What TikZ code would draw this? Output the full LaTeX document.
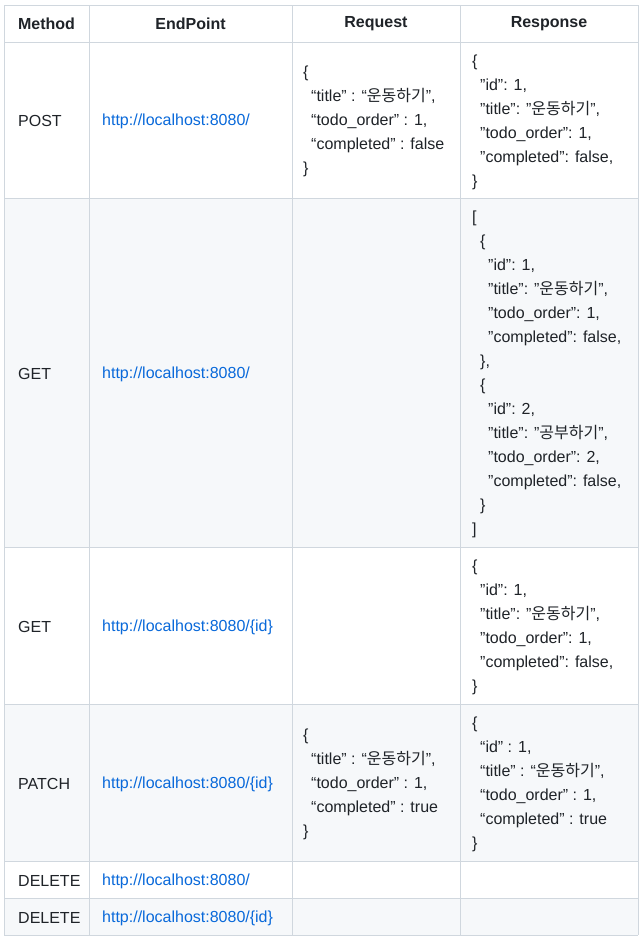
\documentclass[tikz,border=0pt]{standalone}
\usepackage{fontspec}
\setmainfont{Liberation Sans}
\newfontfamily\krfont{Noto Sans CJK KR}
\newcommand{\ko}[1]{{\krfont #1}}
\newcommand{\dq}{\symbol{34}}
\definecolor{grid}{HTML}{D0D7DE}
\definecolor{rowshade}{HTML}{F6F8FA}
\definecolor{link}{HTML}{0969DA}
\definecolor{ink}{HTML}{1F2328}
\tikzset{
 cell/.style={anchor=west,inner sep=0pt,align=left,text=ink,font=\fontsize{16}{24}\selectfont},
 hdr/.style={inner sep=0pt,text=ink,font=\fontsize{16}{24}\selectfont\bfseries},
 lnk/.style={cell,text=link},
 gridline/.style={draw=grid,line width=1pt}
}
\newcommand{\ind}[1]{\hspace*{#1pt}}
\begin{document}
\begin{tikzpicture}[x=1pt,y=-1pt]
\fill[white] (0,0) rectangle (644,938);
\useasboundingbox (0,0) rectangle (644,938);
\fill[rowshade] (4,198) rectangle (638,547);
\fill[rowshade] (4,704) rectangle (638,861);
\fill[rowshade] (4,898) rectangle (638,935);
\foreach \y in {5,42,198,547,704,861,898,935} \draw[gridline] (4,\y) -- (638,\y);
\foreach \x in {4,89,292,460,638} \draw[gridline] (\x,5) -- (\x,935);
% header
\node[hdr] (h1) at (46.5,24) {Method};
\node[hdr] (h2) at (190.5,24) {EndPoint};
\node[hdr] (h3) at (376,24) {Request};
\node[hdr] (h4) at (549,24) {Response};
% row 1
\node[cell] (m1) at (18,121) {POST};
\node[lnk] (e1) at (102,121) {http://localhost:8080/};
\node[cell] (q1) at (303,121) {\{\\\ind{8}“title” : “\ko{운동하기}”,\\\ind{8}“todo\_order” : 1,\\\ind{8}“completed” : false\\\}};
\node[cell] (r1) at (472,122) {\{\\\ind{8}\dq id\dq: 1,\\\ind{8}\dq title\dq: \dq\ko{운동하기}\dq,\\\ind{8}\dq todo\_order\dq: 1,\\\ind{8}\dq completed\dq: false,\\\}};
% row 2
\node[cell] (m2) at (18,374) {GET};
\node[lnk] (e2) at (102,374) {http://localhost:8080/};
\node[cell] (r2) at (472,374) {[\\\ind{8}\{\\\ind{16}\dq id\dq: 1,\\\ind{16}\dq title\dq: \dq\ko{운동하기}\dq,\\\ind{16}\dq todo\_order\dq: 1,\\\ind{16}\dq completed\dq: false,\\\ind{8}\},\\\ind{8}\{\\\ind{16}\dq id\dq: 2,\\\ind{16}\dq title\dq: \dq\ko{공부하기}\dq,\\\ind{16}\dq todo\_order\dq: 2,\\\ind{16}\dq completed\dq: false,\\\ind{8}\}\\]};
% row 3
\node[cell] (m3) at (18,627) {GET};
\node[lnk] (e3) at (102,627) {http://localhost:8080/\{id\}};
\node[cell] (r3) at (472,627) {\{\\\ind{8}\dq id\dq: 1,\\\ind{8}\dq title\dq: \dq\ko{운동하기}\dq,\\\ind{8}\dq todo\_order\dq: 1,\\\ind{8}\dq completed\dq: false,\\\}};
% row 4
\node[cell] (m4) at (18,784) {PATCH};
\node[lnk] (e4) at (102,784) {http://localhost:8080/\{id\}};
\node[cell] (q4) at (303,784) {\{\\\ind{8}“title” : “\ko{운동하기}”,\\\ind{8}“todo\_order” : 1,\\\ind{8}“completed” : true\\\}};
\node[cell] (r4) at (472,784) {\{\\\ind{8}“id” : 1,\\\ind{8}“title” : “\ko{운동하기}”,\\\ind{8}“todo\_order” : 1,\\\ind{8}“completed” : true\\\}};
% rows 5,6
\node[cell] (m5) at (18,881) {DELETE};
\node[lnk] (e5) at (102,881) {http://localhost:8080/};
\node[cell] (m6) at (18,918) {DELETE};
\node[lnk] (e6) at (102,918) {http://localhost:8080/\{id\}};
\end{tikzpicture}
\end{document}
